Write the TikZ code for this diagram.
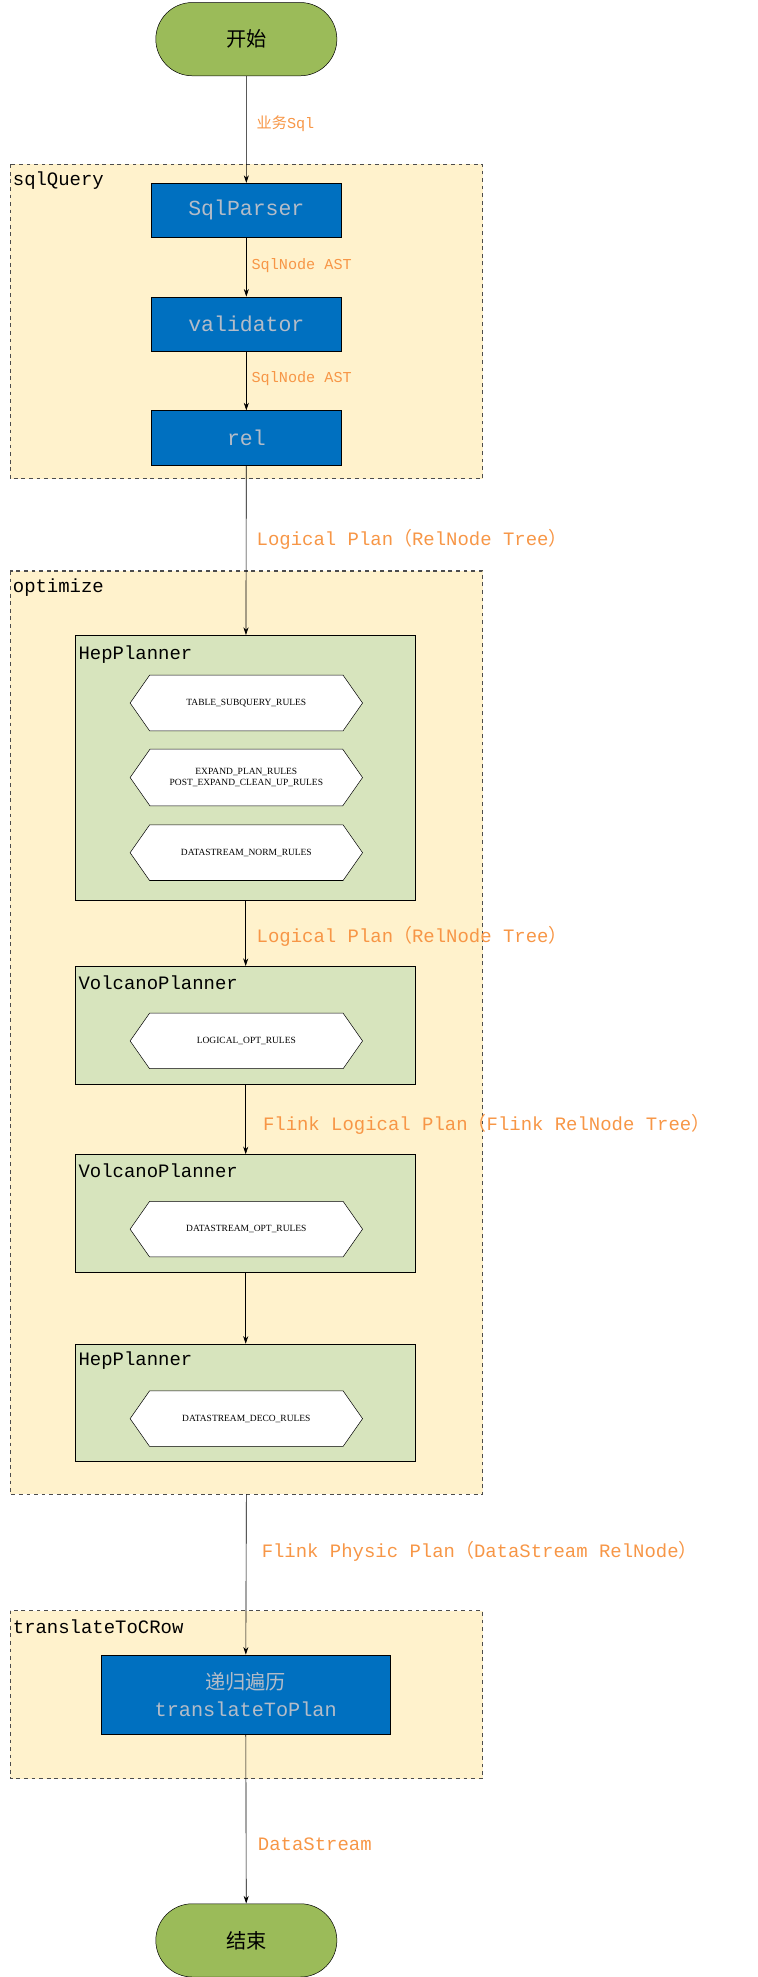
\documentclass[tikz,border=0pt]{standalone}
\usepackage{fontspec}
\setmainfont{Liberation Serif}
\setmonofont{Liberation Mono}
\newfontfamily\cjk{Noto Sans CJK SC}
\usetikzlibrary{shapes.misc,shapes.geometric,shapes.symbols,arrows.meta}
\definecolor{og}{HTML}{F79646}
\definecolor{bl}{HTML}{0070C0}
\definecolor{gt}{HTML}{B4BCC8}
\definecolor{yl}{HTML}{FFF2CC}
\definecolor{gr}{HTML}{D7E4BD}
\definecolor{ol}{HTML}{9BBB59}
\begin{document}
\begin{tikzpicture}[x=1pt,y=-1pt,
 grp/.style={draw=black!70,dashed,fill=yl,line width=0.8pt},
 pl/.style={draw=black,fill=gr,line width=0.6pt},
 blue/.style={draw=black,fill=bl,text=gt,font=\ttfamily\fontsize{17}{19}\selectfont,minimum width=150pt,minimum height=43pt,inner sep=0pt},
 term/.style={draw=black,fill=ol,rounded rectangle,minimum width=150pt,minimum height=58pt,font=\cjk\fontsize{16}{18}\selectfont},
 hex/.style={draw=black,fill=white,signal,signal to=east and west,signal pointer angle=110,minimum width=184pt,minimum height=44pt,inner sep=0pt,font=\fontsize{7.5}{9}\selectfont,align=center},
 lab/.style={text=og,anchor=west,inner sep=0pt},
 lbs/.style={lab,font=\ttfamily\fontsize{12}{14}\selectfont},
 lbl/.style={lab,font=\ttfamily\fontsize{15}{17}\selectfont},
 ttl/.style={anchor=west,inner sep=0pt,font=\ttfamily\fontsize{15}{17}\selectfont},
 arr/.style={-{Stealth[length=6pt,width=4pt]},line width=0.5pt}]
\useasboundingbox (0,0) rectangle (600,1565);
% groups
\draw[grp] (8,130) rectangle (382,379);
\node[ttl] (tq) at (10,143) {sqlQuery};
\draw[grp] (8,452) rectangle (382,1183);
\node[ttl] (to) at (10,465) {optimize};
\draw[grp] (8,1275) rectangle (382,1408);
\node[ttl] (tt) at (10,1288) {translateToCRow};
% start/end
\node[term] (start) at (195,31) {开始};
\node[term] (end) at (195,1536) {结束};
% sqlQuery
\node[blue] (sp) at (195,166.5) {SqlParser};
\node[blue] (va) at (195,256.5) {validator};
\node[blue] (re) at (195,346.5) {rel};
% planners
\node[pl,minimum width=269pt,minimum height=210pt,inner sep=0pt] (h1) at (194.5,608) {};
\node[ttl] at (62,518) {HepPlanner};
\node[hex] (r1) at (195,556.5) {TABLE\_SUBQUERY\_RULES};
\node[hex,minimum height=45pt] (r2) at (195,615.5) {EXPAND\_PLAN\_RULES\\POST\_EXPAND\_CLEAN\_UP\_RULES};
\node[hex] (r3) at (195,675) {DATASTREAM\_NORM\_RULES};
\node[pl,minimum width=269pt,minimum height=93pt,inner sep=0pt] (v1) at (194.5,811.5) {};
\node[ttl] at (62,778) {VolcanoPlanner};
\node[hex] (r4) at (195,824) {LOGICAL\_OPT\_RULES};
\node[pl,minimum width=269pt,minimum height=93pt,inner sep=0pt] (v2) at (194.5,960.5) {};
\node[ttl] at (62,927) {VolcanoPlanner};
\node[hex] (r5) at (195,973) {DATASTREAM\_OPT\_RULES};
\node[pl,minimum width=269pt,minimum height=93pt,inner sep=0pt] (h2) at (194.5,1110.5) {};
\node[ttl] at (62,1077) {HepPlanner};
\node[hex] (r6) at (195,1123) {DATASTREAM\_DECO\_RULES};
% translate
\node[blue,minimum width=229pt,minimum height=63pt,align=center,font=\fontsize{16}{21}\selectfont] (tr) at (194.5,1341.5) {{\cjk 递归遍历}\\\ttfamily translateToPlan};
\coordinate (ob) at (195,1183);
% arrows
\draw[arr] (start) -- (sp);
\draw[arr] (sp) -- (va);
\draw[arr] (va) -- (re);
\draw[arr] (re) -- (h1);
\draw[arr] (h1) -- (v1);
\draw[arr] (v1) -- (v2);
\draw[arr] (v2) -- (h2);
\draw[arr] (ob) -- (tr);
\draw[arr] (tr) -- (end);
% labels
\node[lab,font=\cjk\fontsize{12}{14}\selectfont] (l0) at (203,98) {业务{\ttfamily Sql}};
\node[lbs] (l1) at (199,210) {SqlNode AST};
\node[lbs] (l2) at (199,300) {SqlNode AST};
\node[lbl] (l3) at (203,427) {Logical Plan{\cjk （}RelNode Tree{\cjk ）}};
\node[lbl] (l4) at (203,741) {Logical Plan{\cjk （}RelNode Tree{\cjk ）}};
\node[lbl] (l5) at (208,890) {Flink Logical Plan{\cjk （}Flink RelNode Tree{\cjk ）}};
\node[lbl] (l6) at (207,1228) {Flink Physic Plan{\cjk （}DataStream RelNode{\cjk ）}};
\node[lbl] (l7) at (204,1460) {DataStream};
\end{tikzpicture}
\end{document}
